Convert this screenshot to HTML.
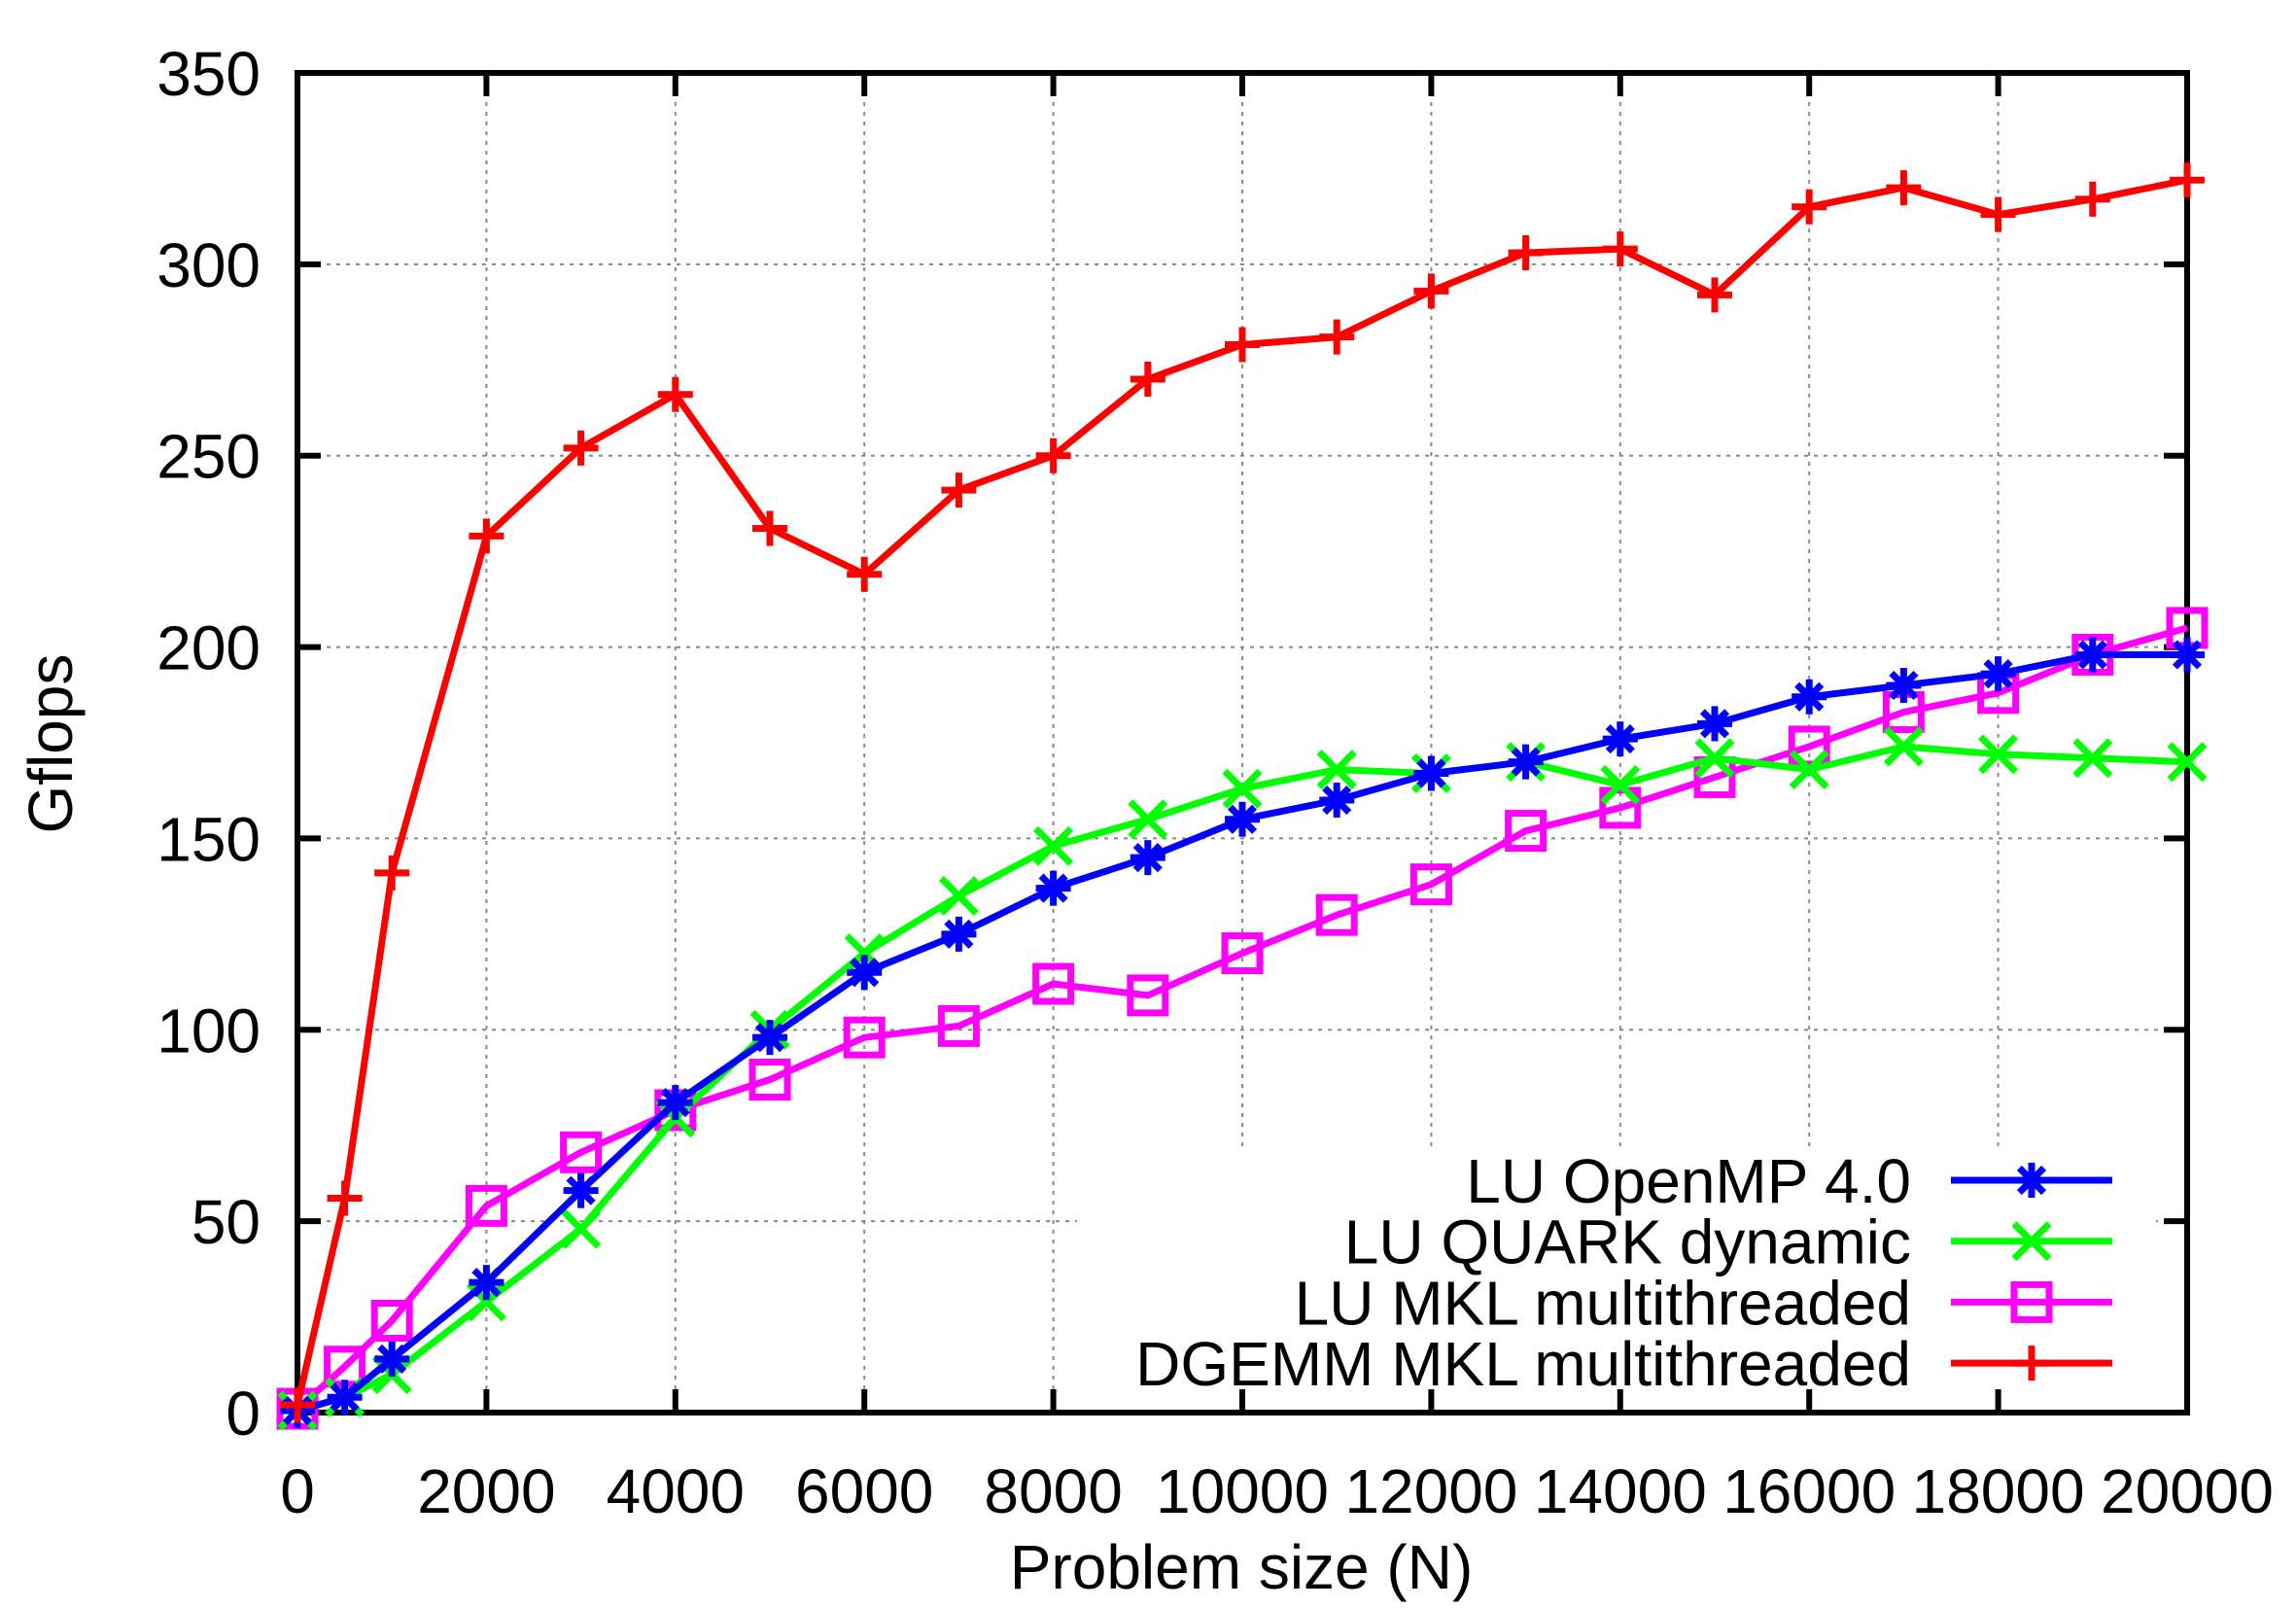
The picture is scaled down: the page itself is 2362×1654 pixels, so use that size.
<!DOCTYPE html>
<html><head><meta charset="utf-8"><style>html,body{margin:0;padding:0;background:#fff}svg{display:block}text{font-family:"Liberation Sans",sans-serif;fill:#000}</style></head>
<body>
<svg id="s" width="2362" height="1654" xmlns="http://www.w3.org/2000/svg"></svg>
<script>
const L=306,R=2250,T=75,B=1453;
const X=v=>L+(R-L)*v/20000, Y=v=>B-(B-T)*v/350;
const xs=[0,500,1000,2000,3000,4000,5000,6000,7000,8000,9000,10000,11000,12000,13000,14000,15000,16000,17000,18000,19000,20000];
const red=[2,56,141,229,252,266,231,219,241,250,270,279,281,293,303,304,292,315,320,313,317,322];
const blue=[0.5,4,14,34,58,81,98,115,125,137,145,155,160,167,170,176,180,187,190,193,198,198];
const green=[0.5,4,10,29,48,77,100,120,135,148,155,163,168,167,170,164,171,168,174,172,171,170];
const mag=[1,12,24,54,68,79,87,98,101,112,109,120,130,138,152,158,166,174,183,188,198,205];
const FS=64, SW=7;
let h='';
for(let i=1;i<10;i++){const x=X(i*2000);h+=`<line x1="${x}" y1="${T}" x2="${x}" y2="${B}" stroke="#888" stroke-width="2" stroke-dasharray="4,6"/>`;}
for(let i=1;i<7;i++){const y=Y(i*50);h+=`<line x1="${L}" y1="${y}" x2="${R}" y2="${y}" stroke="#888" stroke-width="2" stroke-dasharray="4,6"/>`;}
h+=`<rect x="1108" y="1182" width="1110" height="248" fill="#fff"/>`;
for(let i=0;i<=10;i++){const x=X(i*2000);h+=`<line x1="${x}" y1="${B}" x2="${x}" y2="${B-24}" stroke="#000" stroke-width="6"/><line x1="${x}" y1="${T}" x2="${x}" y2="${T+24}" stroke="#000" stroke-width="6"/><text x="${x}" y="1556" font-size="${FS}" text-anchor="middle">${i*2000}</text>`;}
for(let i=0;i<=7;i++){const y=Y(i*50);h+=`<line x1="${L}" y1="${y}" x2="${L+24}" y2="${y}" stroke="#000" stroke-width="6"/><line x1="${R}" y1="${y}" x2="${R-24}" y2="${y}" stroke="#000" stroke-width="6"/><text x="268" y="${y+23}" font-size="${FS}" text-anchor="end">${i*50}</text>`;}
h+=`<rect x="${L}" y="${T}" width="${R-L}" height="${B-T}" fill="none" stroke="#000" stroke-width="6"/>`;
h+=`<text x="0" y="0" font-size="${FS}" text-anchor="middle" transform="translate(74,765) rotate(-90)">Gflops</text>`;
h+=`<text x="1277" y="1634" font-size="${FS}" text-anchor="middle">Problem size (N)</text>`;
function mk(t,x,y,c){const s=18;
 if(t=='star')return `<path d="M${x-s} ${y}H${x+s}M${x} ${y-s}V${y+s}M${x-s*.7} ${y-s*.7}L${x+s*.7} ${y+s*.7}M${x-s*.7} ${y+s*.7}L${x+s*.7} ${y-s*.7}" stroke="${c}" stroke-width="${SW}"/>`;
 if(t=='x')return `<path d="M${x-s} ${y-s}L${x+s} ${y+s}M${x-s} ${y+s}L${x+s} ${y-s}" stroke="${c}" stroke-width="${SW}"/>`;
 if(t=='sq')return `<rect x="${x-s}" y="${y-s}" width="${2*s}" height="${2*s}" fill="none" stroke="${c}" stroke-width="${SW}"/>`;
 return `<path d="M${x-s} ${y}H${x+s}M${x} ${y-s}V${y+s}" stroke="${c}" stroke-width="${SW}"/>`;}
function ser(d,c,t){let p=d.map((v,i)=>X(xs[i]).toFixed(1)+','+Y(v).toFixed(1)).join(' ');
 let o=`<polyline points="${p}" fill="none" stroke="${c}" stroke-width="${SW}" stroke-linejoin="round"/>`;
 d.forEach((v,i)=>o+=mk(t,X(xs[i]),Y(v),c));return o;}
h+=ser(mag,'#f0f','sq')+ser(green,'#0f0','x')+ser(blue,'#00f','star')+ser(red,'#f00','plus');
const lg=[['LU OpenMP 4.0','#00f','star'],['LU QUARK dynamic','#0f0','x'],['LU MKL multithreaded','#f0f','sq'],['DGEMM MKL multithreaded','#f00','plus']];
lg.forEach((l,i)=>{const y=1214+i*62.7;h+=`<text x="1966" y="${y+23}" font-size="${FS}" text-anchor="end">${l[0]}</text><line x1="2007" y1="${y}" x2="2173" y2="${y}" stroke="${l[1]}" stroke-width="${SW}"/>`+mk(l[2],2090,y,l[1]);});
document.getElementById('s').innerHTML=h;
</script>
</body></html>
